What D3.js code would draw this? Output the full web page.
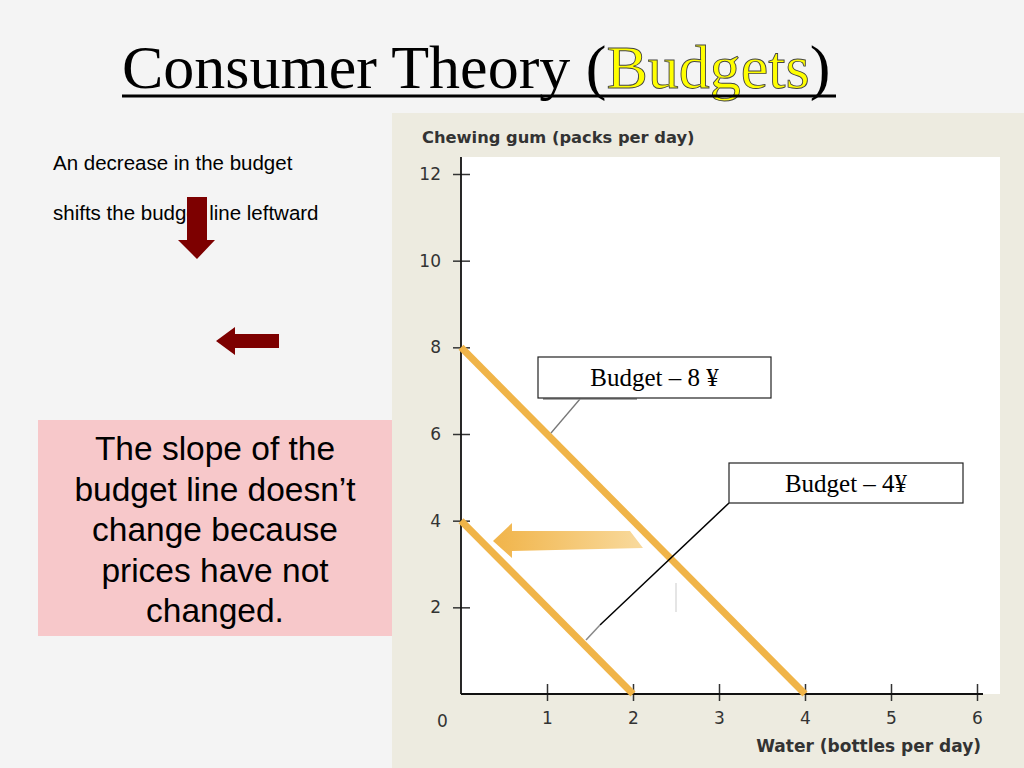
<!DOCTYPE html>
<html>
<head>
<meta charset="utf-8">
<script src="https://cdn.jsdelivr.net/npm/d3@7"></script>
<style>
  body { margin: 0; background: #f4f4f4; }
  svg { display: block; }
</style>
</head>
<body>
<div id="slide"></div>
<script>
// Budget lines: intercepts on each axis
let budgetNames = ["Budget – 8 ¥", "Budget – 4¥"];
let gumIntercepts = [8, 4];
let waterIntercepts = [4, 2];

// Axis ticks
let xTicks = [1, 2, 3, 4, 5, 6];
let yTicks = [2, 4, 6, 8, 10, 12];

// Slide texts
let noteLines = ["An decrease in the budget", "shifts the budget line leftward"];
let boxLines = ["The slope of the", "budget line doesn’t", "change because", "prices have not", "changed."];

let width = 1024, height = 768;

let svg = d3.select("#slide")
  .append("svg")
  .attr("width", width)
  .attr("height", height);

let defs = svg.append("defs");

// Gradient for the yellow shift arrow
let grad = defs.append("linearGradient")
  .attr("id", "shift-grad")
  .attr("x1", "0%").attr("x2", "100%");
grad.append("stop").attr("offset", "0%").attr("stop-color", "#f0b040");
grad.append("stop").attr("offset", "100%").attr("stop-color", "#f8d898");

svg.append("rect")
  .attr("width", width).attr("height", height)
  .attr("fill", "#f4f4f4");

/* -------------- TITLE --------------- */
let title = svg.append("text")
  .attr("x", 122)
  .attr("y", 88)
  .attr("font-family", "'Liberation Serif', 'DejaVu Serif', serif")
  .attr("font-size", "62px")
  .attr("fill", "#000");
title.append("tspan").text("Consumer Theory (");
title.append("tspan")
  .attr("fill", "#ffff00")
  .attr("stroke", "#444")
  .attr("stroke-width", "0.9px")
  .text("Budgets");
title.append("tspan").text(")");

svg.append("line")
  .attr("x1", 122).attr("x2", 836)
  .attr("y1", 96).attr("y2", 96)
  .attr("stroke", "#000")
  .attr("stroke-width", 3);

/* -------------- LEFT TEXT --------------- */
svg.selectAll("text.note")
  .data(noteLines)
  .enter()
  .append("text")
  .attr("class", "note")
  .attr("x", 53)
  .attr("y", (d, i) => 170 + i * 50)
  .attr("font-family", "'Liberation Sans', Arial, sans-serif")
  .attr("font-size", "20.5px")
  .attr("fill", "#000")
  .text(d => d);

// Down arrow
svg.append("path")
  .attr("d", "M187,197 L207,197 L207,240 L215,240 L197,259 L178,240 L187,240 Z")
  .attr("fill", "#7d0000");

// Left arrow
svg.append("path")
  .attr("d", "M279,334 L279,348 L235,348 L235,355 L216,341 L235,327 L235,334 Z")
  .attr("fill", "#7d0000");

// Pink note box
svg.append("rect")
  .attr("x", 38).attr("y", 420)
  .attr("width", 354).attr("height", 216)
  .attr("fill", "#f7c8ca");

svg.selectAll("text.box")
  .data(boxLines)
  .enter()
  .append("text")
  .attr("class", "box")
  .attr("x", 215)
  .attr("y", (d, i) => 460 + i * 40.6)
  .attr("text-anchor", "middle")
  .attr("font-family", "'Liberation Sans', Arial, sans-serif")
  .attr("font-size", "33.5px")
  .attr("fill", "#000")
  .text(d => d);

/* -------------- CHART PANEL --------------- */
svg.append("rect")
  .attr("x", 392).attr("y", 113)
  .attr("width", width - 392).attr("height", height - 113)
  .attr("fill", "#edebe0");

let xScale = d3.scaleLinear().domain([0, 6]).range([461, 977]);
let yScale = d3.scaleLinear().domain([0, 12]).range([694, 174]);

// White plot area
svg.append("rect")
  .attr("x", xScale(0)).attr("y", 157)
  .attr("width", 1000 - xScale(0)).attr("height", yScale(0) - 157)
  .attr("fill", "#ffffff");

let axisFont = "'DejaVu Sans', 'Open Sans', sans-serif";

// Y axis
let yAxis = d3.axisLeft(yScale)
  .tickValues(yTicks)
  .tickSize(0)
  .tickPadding(20)
  .tickFormat(d3.format("d"));

let yAxisGroup = svg.append("g")
  .attr("class", "axis y-axis")
  .attr("transform", "translate(" + xScale(0) + ",0)")
  .call(yAxis);
yAxisGroup.select(".domain").remove();
yAxisGroup.selectAll(".tick line")
  .attr("x1", -8).attr("x2", 9)
  .attr("stroke", "#333").attr("stroke-width", 1.5);
yAxisGroup.selectAll(".tick text")
  .attr("font-family", axisFont)
  .attr("font-size", "17px")
  .attr("fill", "#333");

svg.append("line")
  .attr("x1", xScale(0)).attr("x2", xScale(0))
  .attr("y1", 157).attr("y2", yScale(0))
  .attr("stroke", "#111").attr("stroke-width", 1.8);

// X axis
let xAxis = d3.axisBottom(xScale)
  .tickValues(xTicks)
  .tickSize(0)
  .tickPadding(18)
  .tickFormat(d3.format("d"));

let xAxisGroup = svg.append("g")
  .attr("class", "axis x-axis")
  .attr("transform", "translate(0," + yScale(0) + ")")
  .call(xAxis);
xAxisGroup.select(".domain").remove();
xAxisGroup.selectAll(".tick line")
  .attr("y1", -10).attr("y2", 7)
  .attr("stroke", "#333").attr("stroke-width", 1.5);
xAxisGroup.selectAll(".tick text")
  .attr("font-family", axisFont)
  .attr("font-size", "17px")
  .attr("fill", "#333");

svg.append("line")
  .attr("x1", xScale(0)).attr("x2", 983)
  .attr("y1", yScale(0)).attr("y2", yScale(0))
  .attr("stroke", "#111").attr("stroke-width", 1.8);

svg.append("text")
  .attr("x", xScale(0) - 24).attr("y", yScale(0) + 33)
  .attr("font-family", axisFont)
  .attr("font-size", "17px")
  .attr("fill", "#333")
  .text("0");

// Axis titles
svg.append("text")
  .attr("x", 422).attr("y", 143)
  .attr("font-family", axisFont)
  .attr("font-size", "16.3px")
  .attr("font-weight", "bold")
  .attr("fill", "#333")
  .text("Chewing gum (packs per day)");

svg.append("text")
  .attr("x", 981).attr("y", 752)
  .attr("text-anchor", "end")
  .attr("font-family", axisFont)
  .attr("font-size", "17px")
  .attr("font-weight", "bold")
  .attr("fill", "#333")
  .text("Water (bottles per day)");

// Budget lines
let budgets = budgetNames.map((name, i) => ({
  name: name,
  points: [[0, gumIntercepts[i]], [waterIntercepts[i], 0]]
}));

let lineGen = d3.line()
  .x(d => xScale(d[0]))
  .y(d => yScale(d[1]));

svg.selectAll("path.budget")
  .data(budgets)
  .enter()
  .append("path")
  .attr("class", "budget")
  .attr("d", d => lineGen(d.points))
  .attr("fill", "none")
  .attr("stroke", "#f0b448")
  .attr("stroke-width", 7);

// Shift arrow between the lines
svg.append("path")
  .attr("d", "M643,548 L630,531 L512,531 L512,523 L493,541 L512,558 L512,551 Z")
  .attr("fill", "url(#shift-grad)")
  .attr("opacity", 0.95);

// faint mark
svg.append("line")
  .attr("x1", 676).attr("x2", 676)
  .attr("y1", 583).attr("y2", 612)
  .attr("stroke", "#ddd").attr("stroke-width", 1.5);

// Leader lines
svg.append("line")
  .attr("x1", 551).attr("y1", 433)
  .attr("x2", 580).attr("y2", 399)
  .attr("stroke", "#777").attr("stroke-width", 1.3);
svg.append("line")
  .attr("x1", 543).attr("y1", 399)
  .attr("x2", 637).attr("y2", 399)
  .attr("stroke", "#888").attr("stroke-width", 1.5);

svg.append("line")
  .attr("x1", 729).attr("y1", 503)
  .attr("x2", 600).attr("y2", 625)
  .attr("stroke", "#000").attr("stroke-width", 1.5);
svg.append("line")
  .attr("x1", 600).attr("y1", 625)
  .attr("x2", 586).attr("y2", 640)
  .attr("stroke", "#888").attr("stroke-width", 1.5);

// Label boxes
let labelBoxes = [
  {x: 538, y: 357, w: 233, h: 41},
  {x: 729, y: 463, w: 234, h: 40}
];

let labels = svg.selectAll("g.label")
  .data(budgets)
  .enter()
  .append("g")
  .attr("class", "label");

labels.append("rect")
  .attr("x", (d, i) => labelBoxes[i].x)
  .attr("y", (d, i) => labelBoxes[i].y)
  .attr("width", (d, i) => labelBoxes[i].w)
  .attr("height", (d, i) => labelBoxes[i].h)
  .attr("fill", "#fff")
  .attr("stroke", "#222")
  .attr("stroke-width", 1.2);

labels.append("text")
  .attr("x", (d, i) => labelBoxes[i].x + labelBoxes[i].w / 2)
  .attr("y", (d, i) => labelBoxes[i].y + 29)
  .attr("text-anchor", "middle")
  .attr("font-family", "'Liberation Serif', 'DejaVu Serif', serif")
  .attr("font-size", "25px")
  .attr("fill", "#000")
  .text(d => d.name);
</script>
</body>
</html>
